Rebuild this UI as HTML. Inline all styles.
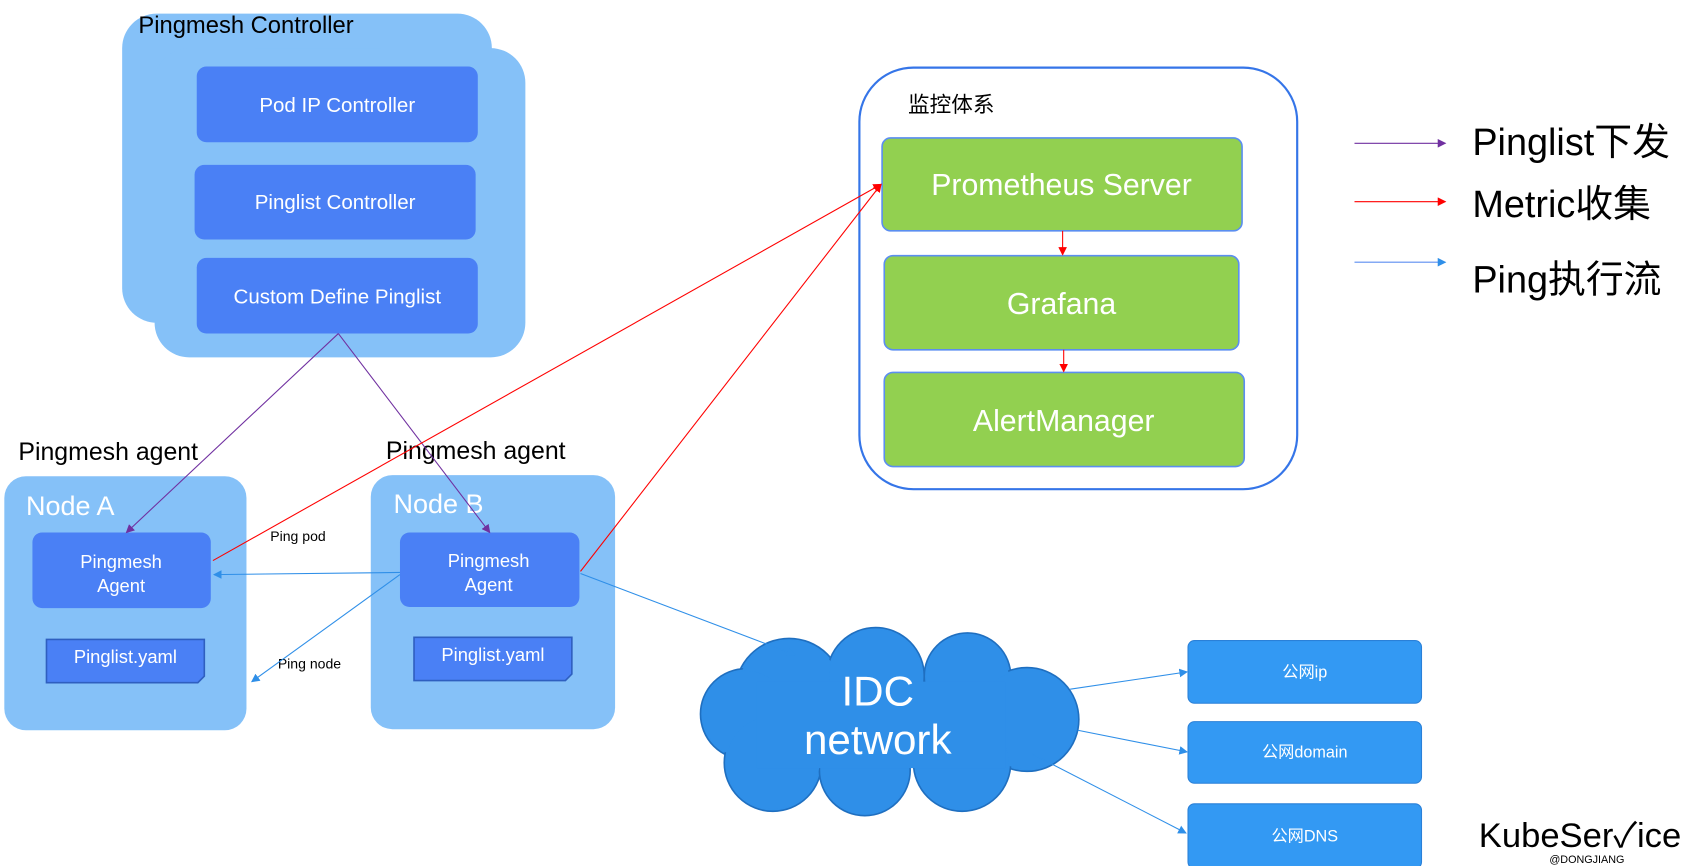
<!DOCTYPE html>
<html><head><meta charset="utf-8"><style>
html,body{margin:0;padding:0;background:#fff;width:1695px;height:866px;overflow:hidden}
svg{display:block;font-family:"Liberation Sans","Noto Sans CJK SC",sans-serif}
</style></head><body>
<svg width="1695" height="866" viewBox="0 0 1568 800" xmlns="http://www.w3.org/2000/svg">
<defs>
<marker id="ap" markerWidth="8" markerHeight="8" refX="7" refY="4" orient="auto" markerUnits="userSpaceOnUse"><path d="M0,0 L8,4 L0,8z" fill="#7030a0"/></marker>
<marker id="ar" markerWidth="8" markerHeight="8" refX="7" refY="4" orient="auto" markerUnits="userSpaceOnUse"><path d="M0,0 L8,4 L0,8z" fill="#ff0000"/></marker>
<marker id="ab" markerWidth="8" markerHeight="8" refX="7" refY="4" orient="auto" markerUnits="userSpaceOnUse"><path d="M0,0 L8,4 L0,8z" fill="#2f8fe8"/></marker>
</defs>
<rect x="113" y="12" width="342" height="286" rx="32" fill="#85c1f8"/>
<rect x="143" y="44" width="343" height="286" rx="32" fill="#85c1f8"/>
<text x="128" y="30" font-size="22" fill="#000">Pingmesh Controller</text>
<rect x="182" y="61" width="260" height="70" rx="9" fill="#4a80f5"/>
<text x="312" y="103" font-size="19" fill="#fff" text-anchor="middle">Pod IP Controller</text>
<rect x="180" y="152" width="260" height="69" rx="9" fill="#4a80f5"/>
<text x="310" y="193" font-size="19" fill="#fff" text-anchor="middle">Pinglist Controller</text>
<rect x="182" y="238" width="260" height="70" rx="9" fill="#4a80f5"/>
<text x="312" y="280" font-size="19" fill="#fff" text-anchor="middle">Custom Define Pinglist</text>
<rect x="795" y="62" width="405" height="390" rx="50" fill="#fff" stroke="#3575e8" stroke-width="2"/>
<text x="840" y="103" font-size="20" fill="#000">监控体系</text>
<rect x="816" y="127" width="333" height="86" rx="8" fill="#92d050" stroke="#5b8ef0" stroke-width="1.5"/>
<text x="982" y="180" font-size="28" fill="#fff" text-anchor="middle">Prometheus Server</text>
<rect x="818" y="236" width="328" height="87" rx="8" fill="#92d050" stroke="#5b8ef0" stroke-width="1.5"/>
<text x="982" y="290" font-size="28" fill="#fff" text-anchor="middle">Grafana</text>
<rect x="818" y="344" width="333" height="87" rx="8" fill="#92d050" stroke="#5b8ef0" stroke-width="1.5"/>
<text x="984" y="398" font-size="28" fill="#fff" text-anchor="middle">AlertManager</text>
<line x1="983" y1="213" x2="983" y2="235" stroke="#f00" marker-end="url(#ar)"/>
<line x1="984" y1="323" x2="984" y2="343" stroke="#f00" marker-end="url(#ar)"/>
<line x1="1253" y1="132" x2="1337" y2="132" stroke="#7030a0" marker-end="url(#ap)"/>
<line x1="1253" y1="186" x2="1337" y2="186" stroke="#f00" marker-end="url(#ar)"/>
<line x1="1253" y1="242" x2="1337" y2="242" stroke="#5b8ef0" marker-end="url(#ab)"/>
<text x="1362" y="143" font-size="35" fill="#000">Pinglist下发</text>
<text x="1362" y="200" font-size="35" fill="#000">Metric收集</text>
<text x="1362" y="270" font-size="35" fill="#000">Ping执行流</text>
<text x="17" y="425" font-size="23" fill="#000">Pingmesh agent</text>
<text x="357" y="424" font-size="23" fill="#000">Pingmesh agent</text>
<rect x="4" y="440" width="224" height="235" rx="20" fill="#85c1f8"/>
<text x="24" y="476" font-size="25" fill="#fff">Node A</text>
<rect x="30" y="492" width="165" height="70" rx="9" fill="#4a80f5"/>
<text x="112" y="525" font-size="17" fill="#fff" text-anchor="middle">Pingmesh</text>
<text x="112" y="547" font-size="17" fill="#fff" text-anchor="middle">Agent</text>
<path d="M43,591 H189 V625 L183,631 H43z" fill="#4a80f5" stroke="#2f5fc0" stroke-width="1.5"/>
<text x="116" y="613" font-size="17" fill="#fff" text-anchor="middle">Pinglist.yaml</text>
<rect x="343" y="439" width="226" height="235" rx="20" fill="#85c1f8"/>
<text x="364" y="474" font-size="25" fill="#fff">Node B</text>
<rect x="370" y="492" width="166" height="69" rx="9" fill="#4a80f5"/>
<text x="452" y="524" font-size="17" fill="#fff" text-anchor="middle">Pingmesh</text>
<text x="452" y="546" font-size="17" fill="#fff" text-anchor="middle">Agent</text>
<path d="M383,589 H529 V623 L523,629 H383z" fill="#4a80f5" stroke="#2f5fc0" stroke-width="1.5"/>
<text x="456" y="611" font-size="17" fill="#fff" text-anchor="middle">Pinglist.yaml</text>
<text x="250" y="500" font-size="13" fill="#000">Ping pod</text>
<text x="257" y="618" font-size="13" fill="#000">Ping node</text>
<g fill="#2f8fe8" stroke="#1f6fc0" stroke-width="1.5">
<circle cx="730" cy="640" r="50"/><circle cx="810" cy="625" r="45"/><circle cx="895" cy="625" r="40"/>
<circle cx="950" cy="665" r="48"/><circle cx="690" cy="660" r="42"/><circle cx="715" cy="705" r="45"/>
<circle cx="800" cy="712" r="42"/><circle cx="890" cy="705" r="45"/>
</g>
<g fill="#2f8fe8"><circle cx="730" cy="640" r="48"/><circle cx="810" cy="625" r="43"/><circle cx="895" cy="625" r="38"/>
<circle cx="950" cy="665" r="46"/><circle cx="690" cy="660" r="40"/><circle cx="715" cy="705" r="43"/>
<circle cx="800" cy="712" r="40"/><circle cx="890" cy="705" r="43"/><rect x="700" y="630" width="230" height="80"/></g>
<text x="812" y="652" font-size="39" fill="#fff" text-anchor="middle">IDC</text>
<text x="812" y="697" font-size="39" fill="#fff" text-anchor="middle">network</text>
<rect x="1099" y="592" width="216" height="58" rx="6" fill="#3399f3" stroke="#2a80d8"/>
<text x="1207" y="626" font-size="15" fill="#fff" text-anchor="middle">公网ip</text>
<rect x="1099" y="667" width="216" height="57" rx="6" fill="#3399f3" stroke="#2a80d8"/>
<text x="1207" y="700" font-size="15" fill="#fff" text-anchor="middle">公网domain</text>
<rect x="1099" y="743" width="216" height="60" rx="6" fill="#3399f3" stroke="#2a80d8"/>
<text x="1207" y="778" font-size="15" fill="#fff" text-anchor="middle">公网DNS</text>
<text x="1368" y="783" font-size="32" fill="#000">KubeSer✓ice</text>
<text x="1468" y="798" font-size="10" fill="#000" text-anchor="middle">@DONGJIANG</text>
<line x1="313" y1="308" x2="117" y2="492" stroke="#7030a0" marker-end="url(#ap)"/>
<line x1="313" y1="308" x2="453" y2="492" stroke="#7030a0" marker-end="url(#ap)"/>
<line x1="197" y1="518" x2="815" y2="170" stroke="#f00" marker-end="url(#ar)"/>
<line x1="537" y1="528" x2="815" y2="170" stroke="#f00" marker-end="url(#ar)"/>
<line x1="370" y1="529" x2="198" y2="531" stroke="#2f8fe8" marker-end="url(#ab)"/>
<line x1="370" y1="531" x2="233" y2="630" stroke="#2f8fe8" marker-end="url(#ab)"/>
<line x1="537" y1="530" x2="735" y2="605" stroke="#2f8fe8" marker-end="url(#ab)"/>
<line x1="990" y1="637" x2="1098" y2="621" stroke="#2f8fe8" marker-end="url(#ab)"/>
<line x1="997" y1="675" x2="1098" y2="695" stroke="#2f8fe8" marker-end="url(#ab)"/>
<line x1="955" y1="697" x2="1097" y2="770" stroke="#2f8fe8" marker-end="url(#ab)"/>
</svg>
</body></html>
